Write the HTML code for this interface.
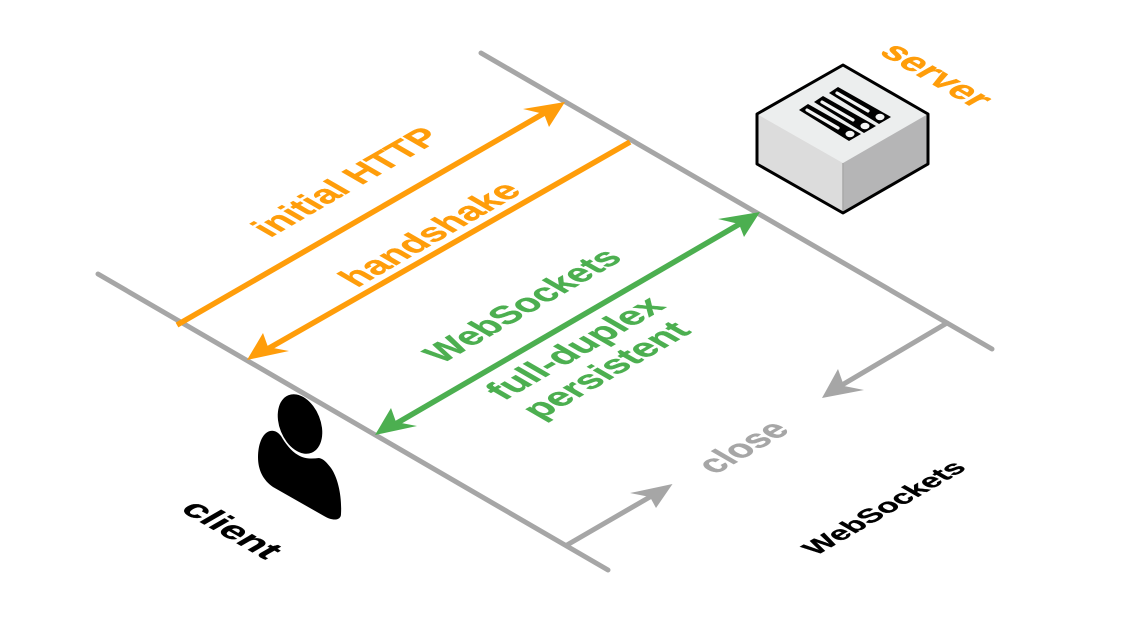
<!DOCTYPE html>
<html>
<head>
<meta charset="utf-8">
<style>
html,body{margin:0;padding:0;background:#fff;width:1122px;height:627px;overflow:hidden}
svg{display:block}
text{font-family:"Liberation Sans",sans-serif;font-weight:700}
</style>
</head>
<body>
<svg width="1122" height="627" viewBox="0 0 1122 627" xmlns="http://www.w3.org/2000/svg">
<rect width="1122" height="627" fill="#fff"/>
<!-- timelines -->
<g stroke="#a6a6a6" stroke-width="5" stroke-linecap="round" fill="none">
<line x1="481" y1="53" x2="992" y2="349"/>
<line x1="98" y1="274" x2="608" y2="570"/>
<line x1="947" y1="323" x2="842" y2="385"/>
<line x1="567" y1="545" x2="655" y2="494"/>
</g>
<polygon points="822,398 864,390 844,386 838,369" fill="#a6a6a6"/>
<polygon points="672.5,484 630,493 650,497 656,508" fill="#a6a6a6"/>
<!-- orange -->
<g stroke="#ff9d0a" stroke-width="5.5" fill="none">
<line x1="177" y1="325" x2="548" y2="111"/>
<line x1="630" y1="142" x2="264" y2="351"/>
</g>
<polygon points="565,102 523,109 544,114 549,127" fill="#ff9d0a"/>
<polygon points="247,360 289,351 268,347 263,333" fill="#ff9d0a"/>
<!-- green -->
<g stroke="#4caf50" stroke-width="5.5" fill="none">
<line x1="392" y1="426" x2="743" y2="222"/>
</g>
<polygon points="760,212 718,219 739,224 744,237" fill="#4caf50"/>
<polygon points="375,435 417,426 396,422 391,408" fill="#4caf50"/>
<!-- labels -->
<g fill="#ff9d0a" stroke="#ff9d0a" stroke-width=".5" font-size="36">
<text transform="matrix(.866 -.5 .866 .5 270 238)" textLength="200" lengthAdjust="spacingAndGlyphs">initial HTTP</text>
<text transform="matrix(.866 -.5 .866 .5 357 288)" textLength="192" lengthAdjust="spacingAndGlyphs">handshake</text>
</g>
<g fill="#4caf50" stroke="#4caf50" stroke-width=".5" font-size="36">
<text transform="matrix(.866 -.5 .866 .5 442 364)" textLength="210" lengthAdjust="spacingAndGlyphs">WebSockets</text>
<text transform="matrix(.866 -.5 .866 .5 504 401)" textLength="188" lengthAdjust="spacingAndGlyphs">full-duplex</text>
<text transform="matrix(.866 -.5 .866 .5 540 420)" textLength="176" lengthAdjust="spacingAndGlyphs">persistent</text>
</g>
<text fill="#a6a6a6" stroke="#a6a6a6" stroke-width=".5" font-size="36" transform="matrix(.866 -.5 .866 .5 715 475)" textLength="88" lengthAdjust="spacingAndGlyphs">close</text>
<text fill="#000" stroke="#000" stroke-width=".4" font-size="27" transform="matrix(.866 -.5 .866 .5 816 556)" textLength="175" lengthAdjust="spacingAndGlyphs">WebSockets</text>
<text fill="#000" stroke="#000" stroke-width=".4" font-size="34" transform="matrix(.866 .5 -.866 .5 179 510)" textLength="100" lengthAdjust="spacingAndGlyphs">client</text>
<text fill="#ff9d0a" stroke="#ff9d0a" stroke-width=".5" font-size="36" transform="matrix(.866 .5 -.866 .5 878 53)" textLength="112" lengthAdjust="spacingAndGlyphs">server</text>
<!-- server cube -->
<polygon points="843,65 928,114 843,163 757,114" fill="#eceeee"/>
<polygon points="757,114 843,163 843,213 757,164" fill="#dcdcdc"/>
<polygon points="928,114 928,164 843,213 843,163" fill="#b5b5b6"/>
<line x1="843" y1="163" x2="843" y2="212" stroke="#a8a8a8" stroke-width="1.5"/>
<polygon points="843,65 928,114 928,164 843,213 757,164 757,114" fill="none" stroke="#000" stroke-width="3" stroke-linejoin="round"/>
<!-- server icon -->
<g fill="#000">
<polygon points="799,110 808,104 861,134 849,141"/>
<polygon points="814,102 823,96 876,126 864,133"/>
<polygon points="829,93 838,87 891,117 879,124"/>
</g>
<g stroke="#f4f5f5" stroke-width="3.2" stroke-linecap="round" fill="none">
<line x1="807" y1="110" x2="838" y2="128"/>
<line x1="822" y1="102" x2="853" y2="120"/>
<line x1="837" y1="93" x2="868" y2="111"/>
</g>
<g fill="#f4f5f5">
<ellipse cx="850" cy="134" rx="4.5" ry="3.2"/>
<ellipse cx="865" cy="126" rx="4.5" ry="3.2"/>
<ellipse cx="880" cy="117" rx="4.5" ry="3.2"/>
</g>
<!-- person -->
<ellipse cx="300" cy="424" rx="20.5" ry="31" transform="rotate(-22 300 424)" fill="#000"/>
<path d="M270 431 C262 433 258 445 258 457 C258 470 263 480 273 487 L324 516 C332 521 341 521 341 514 C342 496 338 478 331 468 C327 463 324 459 319 458 C312 459 304 459 298 455 C291 451 285 443 281 436 C278 432 274 430 270 431Z" fill="#000"/>
</svg>
</body>
</html>
